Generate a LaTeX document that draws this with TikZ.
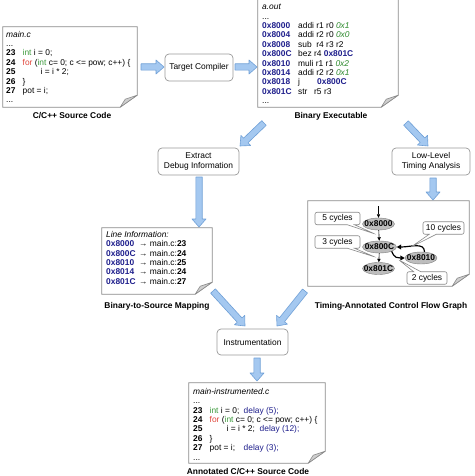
\documentclass[tikz,border=0pt]{standalone}
\usepackage{fontspec}
\setmainfont{Liberation Sans}
\usetikzlibrary{calc,shapes.geometric,shapes.callouts,arrows.meta}
\definecolor{navy}{HTML}{1E1E8C}
\definecolor{cgreen}{HTML}{3C9A3C}
\definecolor{cred}{HTML}{E0453A}
\definecolor{hexg}{HTML}{2E8B2E}
\definecolor{afill}{HTML}{A4C8F0}
\definecolor{aline}{HTML}{6E9FD6}
\definecolor{boxline}{HTML}{8A8A8A}
\definecolor{procline}{HTML}{999999}
\definecolor{flapgray}{HTML}{CFCFCF}
\definecolor{nodegray}{HTML}{BDBDBD}
\newcommand\fs{\fontsize{8.4}{9.4}\selectfont}
\newcommand\lno[1]{\makebox[16.5pt][l]{\textbf{#1}}}
\newcommand\adr[2]{\makebox[#1][l]{\textbf{\textcolor{navy}{#2}}}}
\newcommand\hx[1]{\textit{\textcolor{hexg}{#1}}}
\newcommand\fatarrow[2]{%
  \coordinate (fh) at ($(#2)!8pt!(#1)$);
  \filldraw[fat] ($(#1)!3.2pt!90:(#2)$) -- ($(fh)!3.2pt!90:(#2)$) -- ($(fh)!7pt!90:(#2)$) -- (#2) -- ($(fh)!7pt!-90:(#2)$) -- ($(fh)!3.2pt!-90:(#2)$) -- ($(#1)!3.2pt!-90:(#2)$) -- cycle;}
\newcommand\docoutline[1]{%
  \draw[docline] (#1.north west) -- (#1.north east) -- ($(#1.south east)+(0,-12)$) -- ($(#1.south east)+(-17,0)$) -- (#1.south west) -- cycle;
  \filldraw[flap] ($(#1.south east)+(0,-12)$) -- ($(#1.south east)+(-12,-8)$) -- ($(#1.south east)+(-17,0)$) -- cycle;}
\tikzset{
  docarea/.style={draw=none, inner sep=0pt},
  docline/.style={draw=boxline, fill=white, line width=0.7pt},
  flap/.style={draw=boxline, fill=flapgray, line width=0.6pt, line join=round},
  codetext/.style={inner sep=0pt, align=left, font=\fs, anchor=north west},
  caption/.style={inner sep=0pt, font=\fs\bfseries},
  procbox/.style={draw=procline, fill=white, rounded corners=4pt, align=center, font=\fs, inner sep=1pt, line width=0.7pt},
  fat/.style={draw=aline, fill=afill, line width=0.6pt, line join=round},
  cfgnode/.style={ellipse, draw=gray, fill=nodegray, inner sep=0pt, minimum width=32pt, minimum height=12pt, font=\fs\bfseries},
  cyclenote/.style={rectangle callout, draw=boxline, fill=white, rounded corners=2pt, font=\fs, minimum width=45pt, minimum height=12.5pt, inner sep=1pt, line width=0.6pt},
  thinarr/.style={draw=black, line width=0.6pt, -{Triangle[length=3.5pt,width=3.2pt]}},
  thickarr/.style={draw=black, line width=1.2pt, -{Triangle[length=4.5pt,width=4.8pt]}}
}
\begin{document}
\begin{tikzpicture}[x=1pt,y=-1pt]
\useasboundingbox (0,0) rectangle (474,476);

% ---------- document boxes ----------
\node[docarea, minimum width=134pt, minimum height=80pt] (mainc) at (70,67) {};
\docoutline{mainc}
\node[codetext] (maincode) at (6,30.5) {\rule{0pt}{6.5pt}\textit{main.c}\\
...\\
\lno{23}\textcolor{cgreen}{int} i = 0;\\
\lno{24}\textcolor{cred}{for} (\textcolor{cgreen}{int} c= 0; c <= pow; c++) \{\\
\lno{25}\hspace{18pt}i = i * 2;\\
\lno{26}\}\\
\lno{27}pot = i;\\
...};
\node[caption] (lblmain) at (72,116) {C/C++ Source Code};

\node[docarea, minimum width=140pt, minimum height=109pt] (binexe) at (328,52.5) {};
\docoutline{binexe}
\node[codetext] (bincode) at (262,3) {\rule{0pt}{6.5pt}\textit{a.out}\\
...\\
\adr{36pt}{0x8000}addi r1 r0 \hx{0x1}\\
\adr{36pt}{0x8004}addi r2 r0 \hx{0x0}\\
\adr{36pt}{0x8008}sub\ \ r4 r3 r2\\
\adr{36pt}{0x800C}bez\ r4 \textbf{\textcolor{navy}{0x801C}}\\
\adr{36pt}{0x8010}muli r1 r1 \hx{0x2}\\
\adr{36pt}{0x8014}addi r2 r2 \hx{0x1}\\
\adr{36pt}{0x8018}\makebox[19pt][l]{j}\textbf{\textcolor{navy}{0x800C}}\\
\adr{36pt}{0x801C}\makebox[16pt][l]{str}r5 r3\\
...};
\node[caption] (lblbin) at (331,116) {Binary Executable};

\node[docarea, minimum width=110pt, minimum height=66pt] (lineinfo) at (157,261) {};
\docoutline{lineinfo}
\node[codetext] (linecode) at (106,230.5) {\rule{0pt}{6.5pt}\textit{Line Information:}\\
\adr{33pt}{0x8000}→ main.c:\textbf{23}\\
\adr{33pt}{0x800C}→ main.c:\textbf{24}\\
\adr{33pt}{0x8010}→ main.c:\textbf{25}\\
\adr{33pt}{0x8014}→ main.c:\textbf{24}\\
\adr{33pt}{0x801C}→ main.c:\textbf{27}};
\node[caption] (lblmap) at (157,306) {Binary-to-Source Mapping};

\node[docarea, minimum width=161pt, minimum height=85pt] (cfg) at (388.5,243.5) {};
\docoutline{cfg}
\node[caption] (lblcfg) at (391,306) {Timing-Annotated Control Flow Graph};

\node[docarea, minimum width=136pt, minimum height=80pt] (annot) at (257,423) {};
\docoutline{annot}
\node[codetext] (annotcode) at (193,387.5) {\rule{0pt}{6.5pt}\textit{main-instrumented.c}\\
...\\
\lno{23}\makebox[34pt][l]{\textcolor{cgreen}{int} i = 0;}\textcolor{navy}{delay (5);}\\
\lno{24}\textcolor{cred}{for} (\textcolor{cgreen}{int} c= 0; c <= pow; c++) \{\\
\lno{25}\hspace{17pt}\makebox[33pt][l]{i = i * 2;}\textcolor{navy}{delay (12);}\\
\lno{26}\}\\
\lno{27}\makebox[34pt][l]{pot = i;}\textcolor{navy}{delay (3);}\\
...};
\node[caption] (lblannot) at (248,472) {Annotated C/C++ Source Code};

% ---------- process boxes ----------
\node[procbox, minimum width=68pt, minimum height=27pt] (tc) at (199,67.5) {Target Compiler};
\node[procbox, minimum width=81pt, minimum height=27pt] (extract) at (198.5,161.5) {Extract\\Debug Information};
\node[procbox, minimum width=78pt, minimum height=27pt] (lowlevel) at (431,161.5) {Low-Level\\Timing Analysis};
\node[procbox, minimum width=71pt, minimum height=26pt] (instr) at (252.5,342) {Instrumentation};

% ---------- fat arrows ----------
\coordinate (f1s) at (141,67);  \coordinate (f1e) at (164,67);
\coordinate (f2s) at (235,67);  \coordinate (f2e) at (257,67);
\coordinate (f3s) at (264,123); \coordinate (f3e) at (240,146);
\coordinate (f4s) at (406,123); \coordinate (f4e) at (428,146);
\coordinate (f5s) at (199,177); \coordinate (f5e) at (199,227);
\coordinate (f6s) at (433,178); \coordinate (f6e) at (433,200);
\coordinate (f7s) at (213,291); \coordinate (f7e) at (245,326);
\coordinate (f8s) at (305,291); \coordinate (f8e) at (277,326);
\coordinate (f9s) at (257,358); \coordinate (f9e) at (257,381);
\fatarrow{f1s}{f1e}
\fatarrow{f2s}{f2e}
\fatarrow{f3s}{f3e}
\fatarrow{f4s}{f4e}
\fatarrow{f5s}{f5e}
\fatarrow{f6s}{f6e}
\fatarrow{f7s}{f7e}
\fatarrow{f8s}{f8e}
\fatarrow{f9s}{f9e}

% ---------- control flow graph ----------
\node[cfgnode] (n8000) at (378.5,224) {\makebox[0pt]{0x8000}};
\node[cfgnode, minimum width=34pt] (n800C) at (379.5,247) {\makebox[0pt]{0x800C}};
\node[cfgnode] (n801C) at (378.5,268.5) {\makebox[0pt]{0x801C}};
\node[cfgnode] (n8010) at (421,258) {\makebox[0pt]{0x8010}};
\coordinate (cfgin) at (378.5,206);
\draw[thinarr] (cfgin) -- (n8000);
\draw[thinarr] (n8000) -- (n800C);
\draw[thinarr] (n800C) -- (n801C);
\draw[thickarr] (n800C.south east) .. controls +(3,7) and +(-7,0) .. (n8010.west);
\draw[thickarr] (n8010.60) .. controls +(0,-10) and +(14,0) .. (n800C.east);

\coordinate (p5) at (375,234);
\coordinate (p3) at (375,257);
\coordinate (p10) at (411,247);
\coordinate (p2) at (399,260);
\node[cyclenote, callout absolute pointer={(p5)}] (c5) at (337.5,218.5) {5 cycles};
\node[cyclenote, callout absolute pointer={(p3)}] (c3) at (337.5,242) {3 cycles};
\node[cyclenote, minimum width=41pt, callout absolute pointer={(p10)}] (c10) at (443.5,228) {10 cycles};
\node[cyclenote, minimum width=40pt, callout absolute pointer={(p2)}] (c2) at (427,278) {2 cycles};
\end{tikzpicture}
\end{document}
